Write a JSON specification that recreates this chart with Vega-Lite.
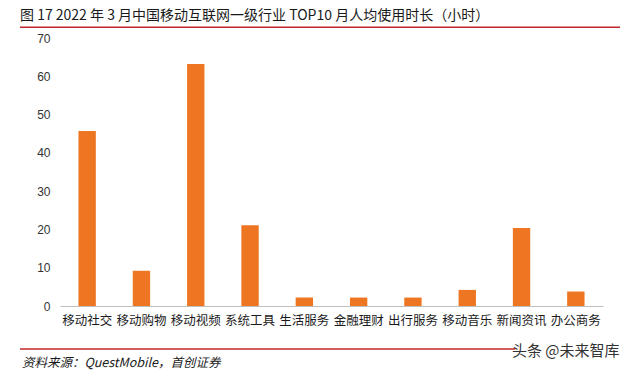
{
  "$schema": "https://vega.github.io/schema/vega-lite/v6.json",
  "width": 543,
  "height": 268,
  "autosize": "none",
  "padding": {"left": 60, "top": 38, "right": 37, "bottom": 67},
  "background": "white",
  "title": {
    "text": "图 17 2022 年 3 月中国移动互联网一级行业 TOP10 月人均使用时长（小时）",
    "anchor": "start",
    "frame": "group",
    "dx": -40,
    "offset": 4,
    "font": "Noto Sans CJK SC",
    "fontSize": 14,
    "fontWeight": "normal",
    "color": "#1a1a1a"
  },
  "config": {"view": {"stroke": null}},
  "encoding": {
    "y": {
      "field": "v", "type": "quantitative",
      "scale": {"domain": [0, 70]},
      "axis": {"title": null, "values": [0, 10, 20, 30, 40, 50, 60, 70], "tickCount": 8, "labelOverlap": false, "grid": false, "domain": false, "ticks": false, "labelPadding": 10, "labelFont": "Liberation Sans", "labelFontSize": 12, "labelColor": "#333333"}
    }
  },
  "layer": [
    {
      "data": {"values": [
        {"category": "移动社交", "v": 45.7},
        {"category": "移动购物", "v": 9.2},
        {"category": "移动视频", "v": 63.2},
        {"category": "系统工具", "v": 21.1},
        {"category": "生活服务", "v": 2.2},
        {"category": "金融理财", "v": 2.2},
        {"category": "出行服务", "v": 2.2},
        {"category": "移动音乐", "v": 4.2},
        {"category": "新闻资讯", "v": 20.4},
        {"category": "办公商务", "v": 3.8}
      ]},
      "mark": {"type": "bar", "color": "#EE7623"},
      "encoding": {
        "x": {
          "field": "category", "type": "nominal", "sort": null,
          "scale": {"paddingInner": 0.68, "paddingOuter": 0.34},
          "axis": {"title": null, "labelAngle": 0, "ticks": false, "domainColor": "#bfbfbf", "labelPadding": 8, "labelFont": "Noto Sans CJK SC", "labelFontSize": 12.5, "labelColor": "#1a1a1a"}
        }
      }
    },
    {
      "data": {"values": [{"v": 72.8}]},
      "mark": {"type": "rule", "color": "#C0282D", "strokeWidth": 1.5, "x": -40, "x2": {"expr": "width + 17"}},
      "encoding": {}
    },
    {
      "data": {"values": [{"v": -11.2}]},
      "mark": {"type": "rule", "color": "#C0282D", "strokeWidth": 1.5, "x": -40, "x2": 455},
      "encoding": {}
    },
    {
      "data": {"values": [{"v": -13.4, "t": "资料来源：QuestMobile，首创证券"}]},
      "mark": {"type": "text", "align": "left", "baseline": "top", "x": -38, "font": "Noto Sans CJK SC", "fontStyle": "italic", "fontSize": 12.5, "color": "#1a1a1a"},
      "encoding": {"text": {"field": "t"}}
    },
    {
      "data": {"values": [{"v": -11.8, "t": "头条 @未来智库"}]},
      "mark": {"type": "text", "align": "left", "baseline": "middle", "x": 452, "font": "Noto Sans CJK SC", "fontSize": 15, "color": "#333333"},
      "encoding": {"text": {"field": "t"}}
    }
  ]
}
